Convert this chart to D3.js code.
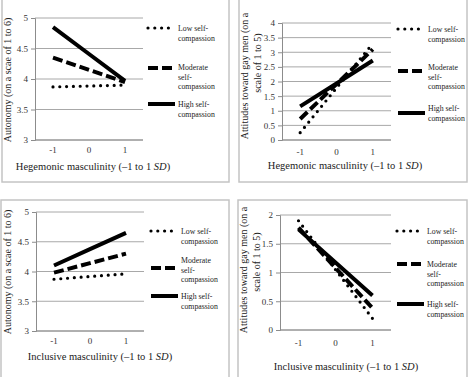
<!DOCTYPE html>
<head>
    <meta charset="utf-8">
    <title>Moderation plots</title>
    <style>
        body { margin: 0; background: #fff; }
        svg { display: block; font-family: "Liberation Serif", "Times New Roman", serif; }
    </style>
</head>
<body>

<svg width="474" height="377"></svg>

<script src="https://d3js.org/d3.v7.min.js"></script>

<script>

// ---- data ----
var categories = [-1, 0, 1];
var seriesKeys = ['low', 'moderate', 'high'];
var legendLabels = [
    ['Low self-', 'compassion'],
    ['Moderate', 'self-', 'compassion'],
    ['High self-', 'compassion']
];

// Autonomy vs hegemonic masculinity
var hegAutonomyLow = [3.87, 3.885, 3.90];
var hegAutonomyModerate = [4.35, 4.15, 3.95];
var hegAutonomyHigh = [4.85, 4.41, 3.97];

// Attitudes toward gay men vs hegemonic masculinity
var hegAttitudeLow = [0.25, 1.78, 3.30];
var hegAttitudeModerate = [0.72, 1.91, 3.10];
var hegAttitudeHigh = [1.15, 1.93, 2.72];

// Autonomy vs inclusive masculinity
var incAutonomyLow = [3.87, 3.915, 3.96];
var incAutonomyModerate = [3.98, 4.14, 4.30];
var incAutonomyHigh = [4.10, 4.375, 4.65];

// Attitudes toward gay men vs inclusive masculinity
var incAttitudeLow = [1.90, 1.05, 0.20];
var incAttitudeModerate = [1.78, 1.08, 0.38];
var incAttitudeHigh = [1.75, 1.175, 0.60];

var autonomyTicks = [3, 3.5, 4, 4.5, 5];
var attitudeTicksWide = [0, 0.5, 1, 1.5, 2, 2.5, 3, 3.5, 4];
var attitudeTicksNarrow = [0, 0.5, 1, 1.5, 2];

var hegTitle = 'Hegemonic masculinity (\u20131 to 1 ';
var incTitle = 'Inclusive masculinity (\u20131 to 1 ';
var autonomyTitle = ['Autonomy (on a scae of 1 to 6)'];
var attitudeTitle = ['Attitudes toward gay men (on a', 'scale of 1 to 5)'];

// ---- layout of the four panels ----
var panels = [
    {
        box: [2, -2, 227, 184],
        plot: { left: 35, right: 143, top: 18, bottom: 140 },
        ticks: autonomyTicks,
        series: [hegAutonomyLow, hegAutonomyModerate, hegAutonomyHigh],
        xTitle: hegTitle, xTitleX: 93, xTitleY: 170, xLabelY: 153,
        yTitle: autonomyTitle, yTitleX: [7], yTitleY: [80],
        legendX: 147, sampleY: [28, 68, 104], textY: [28, 67, 104]
    },
    {
        box: [239, -2, 228, 184],
        plot: { left: 282, right: 391, top: 23, bottom: 140 },
        ticks: attitudeTicksWide,
        series: [hegAttitudeLow, hegAttitudeModerate, hegAttitudeHigh],
        xTitle: hegTitle, xTitleX: 345, xTitleY: 169, xLabelY: 155,
        yTitle: attitudeTitle, yTitleX: [244, 257], yTitleY: [76, 63],
        legendX: 397, sampleY: [29, 71, 113], textY: [29, 67, 108]
    },
    {
        box: [1, 200, 228, 190],
        plot: { left: 36, right: 144, top: 212, bottom: 331 },
        ticks: autonomyTicks,
        series: [incAutonomyLow, incAutonomyModerate, incAutonomyHigh],
        xTitle: incTitle, xTitleX: 100, xTitleY: 360, xLabelY: 344,
        yTitle: autonomyTitle, yTitleX: [7], yTitleY: [272],
        legendX: 150, sampleY: [231, 268, 296], textY: [231, 260, 296]
    },
    {
        box: [238, 200, 229, 190],
        plot: { left: 280, right: 391, top: 215, bottom: 330 },
        ticks: attitudeTicksNarrow,
        series: [incAttitudeLow, incAttitudeModerate, incAttitudeHigh],
        xTitle: incTitle, xTitleX: 346, xTitleY: 370, xLabelY: 346,
        yTitle: attitudeTitle, yTitleX: [243, 256], yTitleY: [270, 262],
        legendX: 396, sampleY: [231, 264, 304], textY: [231, 264, 304]
    }
];

// line style for each series: dotted, dashed, solid
var styles = {
    low: { width: 3.2, dash: '0 6.8', cap: 'round' },
    moderate: { width: 4, dash: '10 4', cap: 'butt' },
    high: { width: 4, dash: null, cap: 'butt' }
};

var svg = d3.select('svg');

panels.forEach(drawPanel);

function drawPanel(p) {
    var g = svg.append('g');

    // outer frame of the panel
    g.append('rect')
        .attr('x', p.box[0]).attr('y', p.box[1])
        .attr('width', p.box[2]).attr('height', p.box[3])
        .attr('fill', '#fff')
        .attr('stroke', '#c4c4c4')
        .attr('stroke-width', 1.5);

    var x = d3.scaleBand()
        .domain(categories)
        .range([p.plot.left, p.plot.right]);

    var y = d3.scaleLinear()
        .domain(d3.extent(p.ticks))
        .range([p.plot.bottom, p.plot.top]);

    // gridlines
    g.append('g')
        .selectAll('line')
        .data(p.ticks)
        .join('line')
            .attr('x1', p.plot.left).attr('x2', p.plot.right)
            .attr('y1', d => y(d)).attr('y2', d => y(d))
            .attr('stroke', '#a8a8a8')
            .attr('stroke-width', 1);

    // y axis
    var yAxis = g.append('g')
        .attr('transform', `translate(${p.plot.left},0)`)
        .call(d3.axisLeft(y).tickValues(p.ticks).tickSize(4).tickPadding(3).tickFormat(d3.format('~g')));
    yAxis.select('.domain').attr('stroke', '#8c8c8c');
    yAxis.selectAll('.tick line').attr('stroke', '#8c8c8c');
    yAxis.selectAll('text')
        .attr('font-family', '"Liberation Serif", serif')
        .attr('font-size', 9)
        .attr('fill', '#333');

    // x axis: labels only, line at the bottom
    g.append('line')
        .attr('x1', p.plot.left).attr('x2', p.plot.right)
        .attr('y1', p.plot.bottom).attr('y2', p.plot.bottom)
        .attr('stroke', '#8c8c8c');
    g.append('g')
        .selectAll('text')
        .data(categories)
        .join('text')
            .attr('x', d => x(d) + x.bandwidth() / 2)
            .attr('y', p.xLabelY)
            .attr('text-anchor', 'middle')
            .attr('font-size', 9)
            .attr('fill', '#333')
            .text(d => d);

    // series lines
    var line = d3.line()
        .x((d, i) => x(categories[i]) + x.bandwidth() / 2)
        .y(d => y(d));

    p.series.forEach((values, i) => {
        var s = styles[seriesKeys[i]];
        g.append('path')
            .datum(values)
            .attr('d', line)
            .attr('fill', 'none')
            .attr('stroke', '#000')
            .attr('stroke-width', s.width)
            .attr('stroke-linecap', s.cap)
            .attr('stroke-dasharray', s.dash);
    });

    // legend
    seriesKeys.forEach((key, i) => {
        var s = styles[key];
        g.append('line')
            .attr('x1', p.legendX + 1).attr('x2', p.legendX + 28)
            .attr('y1', p.sampleY[i]).attr('y2', p.sampleY[i])
            .attr('stroke', '#000')
            .attr('stroke-width', s.width)
            .attr('stroke-linecap', s.cap)
            .attr('stroke-dasharray', s.dash);
        g.append('text')
            .attr('font-size', 7.8)
            .attr('fill', '#222')
            .selectAll('tspan')
            .data(legendLabels[i])
            .join('tspan')
                .attr('x', p.legendX + 31)
                .attr('y', (d, j) => p.textY[i] + 3 + j * 9.5)
                .text(d => d);
    });

    // x title with italic SD
    var xt = g.append('text')
        .attr('x', p.xTitleX)
        .attr('y', p.xTitleY)
        .attr('text-anchor', 'middle')
        .attr('font-size', 10.5)
        .attr('fill', '#222')
        .text(p.xTitle);
    xt.append('tspan').attr('font-style', 'italic').text('SD');
    xt.append('tspan').text(')');

    // y title, rotated
    p.yTitle.forEach((t, j) => {
        g.append('text')
            .attr('transform', `translate(${p.yTitleX[j] + 3.5},${p.yTitleY[j]}) rotate(-90)`)
            .attr('text-anchor', 'middle')
            .attr('font-size', 10)
            .attr('fill', '#222')
            .text(t);
    });
}

</script>

</body>
